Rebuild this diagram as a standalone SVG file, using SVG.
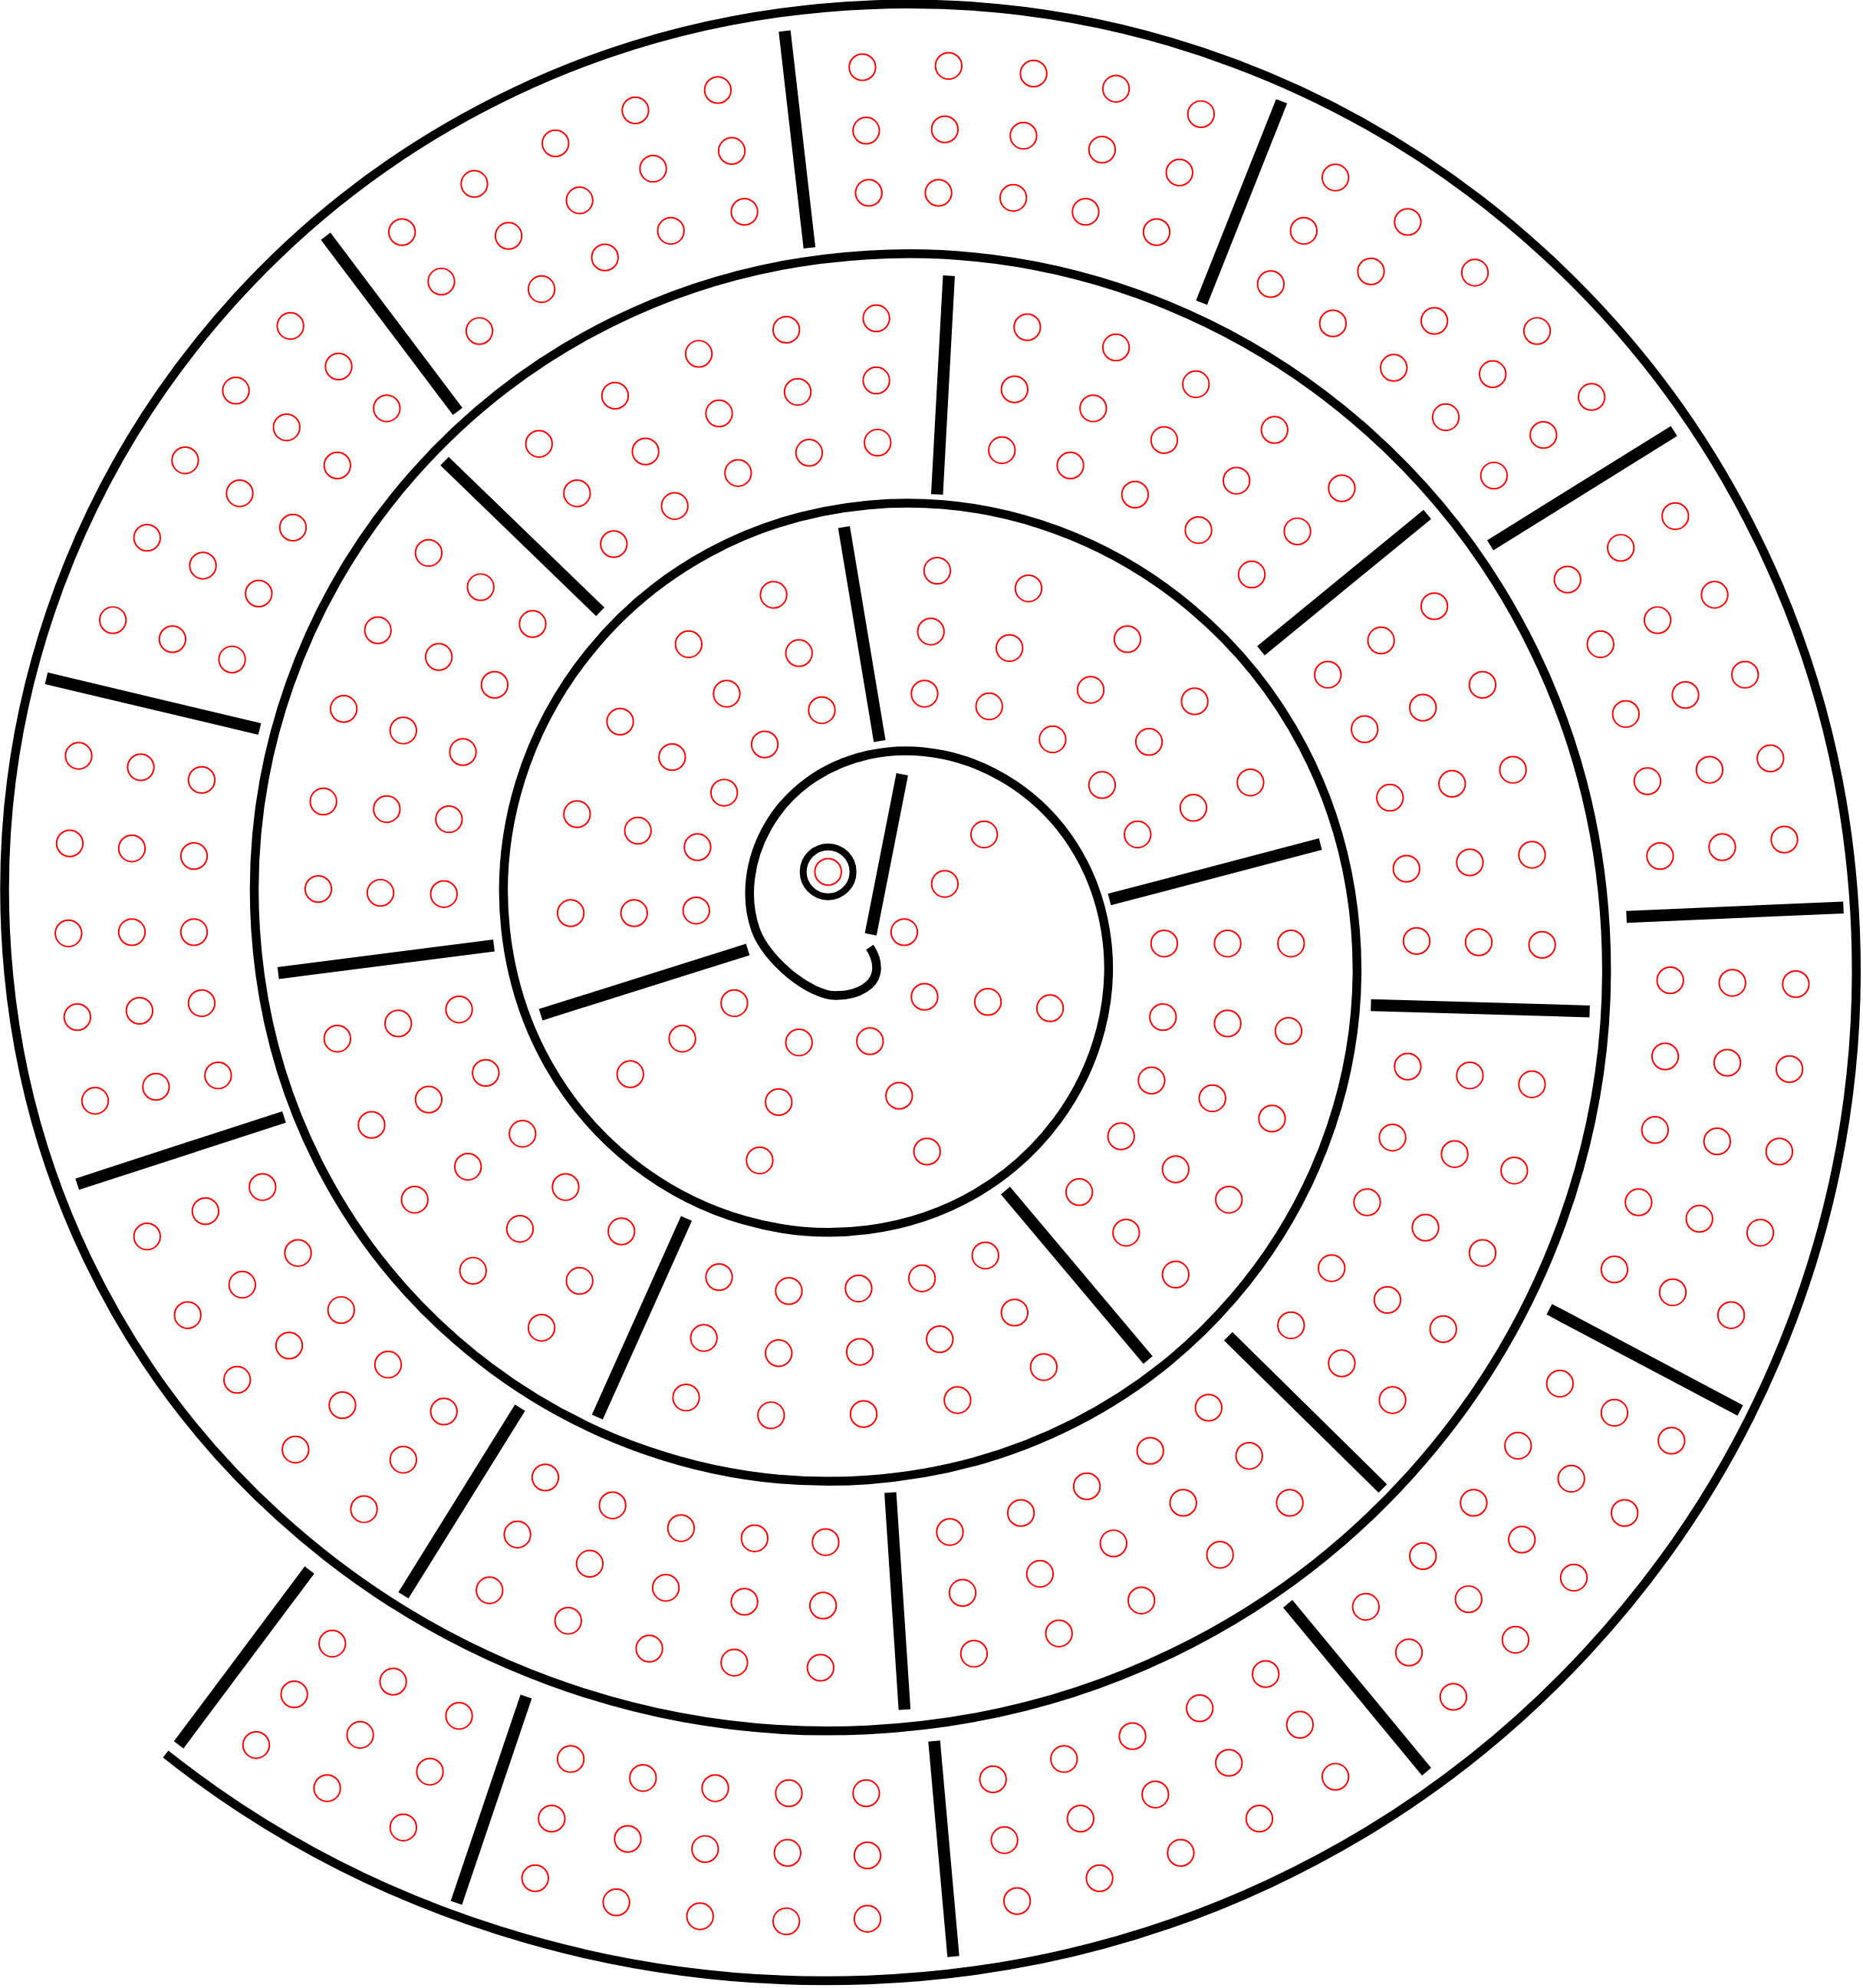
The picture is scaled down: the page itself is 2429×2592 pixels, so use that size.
<svg xmlns="http://www.w3.org/2000/svg" width="2429" height="2592" viewBox="0 0 2429 2592">
<style>
.spiral{fill:none;stroke:#000;stroke-width:11.5;stroke-linecap:butt}
.sep{stroke:#000;stroke-width:15.5;stroke-linecap:butt}
.dot{fill:none;stroke:#ff0000;stroke-width:1.2}
.ring{fill:none;stroke:#000;stroke-width:9}
</style>
<rect width="2429" height="2592" fill="#fff"/>
<g id="spiral">
<path class="spiral" d="M 216,2287 C 478.5,2495 805.7,2593.75 1131.7,2581.4 C 1887.8,2552.8 2447.9,1923.5 2419.2,1212.4 C 2390.6,501.3 1797.8,-22.25 1131.7,6.4 C 465.6,35.05 -21.45,591.3 7.2,1212.4 C 35.85,1833.5 555.7,2284.05 1131.7,2255.4 C 1707.7,2226.75 2121.85,1743.4 2093.2,1212.4 C 2064.55,681.4 1617.7,303.75 1131.7,332.4 C 645.7,361.05 304.55,771.4 333.2,1212.4 C 361.85,1653.4 735.7,1958.05 1131.7,1929.4 C 1527.7,1900.75 1795.85,1563.4 1767.2,1212.4 C 1738.55,861.4 1437.7,629.75 1131.7,658.4 C 825.7,687.05 630.55,951.4 659.2,1212.4 C 687.85,1473.4 915.8,1632.05 1131.7,1603.4 C 1347.6,1574.75 1469.85,1383.3 1441.2,1212.4 C 1412.55,1041.5 1257.6,955.75 1131.7,984.4 C 1005.8,1013.05 956.55,1131.5 985.2,1212.4 C 998.9,1251.1 1055,1298 1090,1298 C 1120,1298 1143,1284 1143,1262 C 1143,1250 1139,1242.5 1134,1235"/>
</g>
<g id="separators">
<line class="sep" x1="233" y1="2275" x2="403.5" y2="2047"/>
<line class="sep" x1="595" y1="2481" x2="686" y2="2212"/>
<line class="sep" x1="1218" y1="2270" x2="1243" y2="2551"/>
<line class="sep" x1="1679" y1="2091" x2="1860" y2="2310"/>
<line class="sep" x1="2020" y1="1707" x2="2269" y2="1839"/>
<line class="sep" x1="2120.6" y1="1195.6" x2="2403.5" y2="1183.2"/>
<line class="sep" x1="2182.6" y1="562" x2="1943" y2="711"/>
<line class="sep" x1="1671" y1="132" x2="1566.6" y2="394.7"/>
<line class="sep" x1="1023" y1="40.5" x2="1055.4" y2="323.2"/>
<line class="sep" x1="424.6" y1="308" x2="596.7" y2="536.4"/>
<line class="sep" x1="60.4" y1="884.4" x2="338.6" y2="950.5"/>
<line class="sep" x1="100.7" y1="1544" x2="370.4" y2="1456.3"/>
<line class="sep" x1="526" y1="2080" x2="678" y2="1835.4"/>
<line class="sep" x1="1160.8" y1="1946" x2="1179.4" y2="2229"/>
<line class="sep" x1="1601.4" y1="1742.3" x2="1802.9" y2="1940.7"/>
<line class="sep" x1="1787.4" y1="1310.5" x2="2072.6" y2="1318.7"/>
<line class="sep" x1="1644" y1="848.4" x2="1861" y2="670.7"/>
<line class="sep" x1="1237.2" y1="359.5" x2="1221.7" y2="644.7"/>
<line class="sep" x1="782.6" y1="797.6" x2="579.6" y2="601.3"/>
<line class="sep" x1="362.7" y1="1268.7" x2="644" y2="1232.8"/>
<line class="sep" x1="778.8" y1="1847.7" x2="895" y2="1588.6"/>
<line class="sep" x1="1310.9" y1="1552.2" x2="1496.8" y2="1773.3"/>
<line class="sep" x1="1721.6" y1="1100.5" x2="1446.5" y2="1172.8"/>
<line class="sep" x1="1100.4" y1="687.3" x2="1146.9" y2="966.2"/>
<line class="sep" x1="705" y1="1323" x2="975" y2="1238"/>
<line class="sep" x1="1176.3" y1="1009.6" x2="1135.2" y2="1218.3"/>
</g>
<g id="centre">
<circle class="ring" cx="1079.7" cy="1136.7" r="32.5"/>
<circle cx="1079.7" cy="1136.7" r="17.3" fill="none" stroke="#ff0000" stroke-width="2"/>
</g>
<g id="dots" transform="scale(1.65351)">
<circle class="dot" cx="318" cy="1441" r="10.4"/><circle class="dot" cx="258" cy="1410" r="10.4"/><circle class="dot" cx="202" cy="1376" r="10.4"/><circle class="dot" cx="339" cy="1397" r="10.4"/><circle class="dot" cx="284" cy="1368" r="10.4"/><circle class="dot" cx="232" cy="1336" r="10.4"/><circle class="dot" cx="362" cy="1353" r="10.4"/><circle class="dot" cx="310" cy="1326" r="10.4"/><circle class="dot" cx="262" cy="1296" r="10.4"/>
<circle class="dot" cx="450" cy="1387" r="10.4"/><circle class="dot" cx="507" cy="1402" r="10.4"/><circle class="dot" cx="564" cy="1410" r="10.4"/><circle class="dot" cx="622" cy="1414" r="10.4"/><circle class="dot" cx="683" cy="1414" r="10.4"/><circle class="dot" cx="435" cy="1434" r="10.4"/><circle class="dot" cx="495" cy="1450" r="10.4"/><circle class="dot" cx="556" cy="1458" r="10.4"/><circle class="dot" cx="621" cy="1461" r="10.4"/><circle class="dot" cx="684" cy="1463" r="10.4"/><circle class="dot" cx="422" cy="1481" r="10.4"/><circle class="dot" cx="486" cy="1500" r="10.4"/><circle class="dot" cx="552" cy="1511" r="10.4"/><circle class="dot" cx="620" cy="1515" r="10.4"/><circle class="dot" cx="684" cy="1513" r="10.4"/>
<circle class="dot" cx="783" cy="1403" r="10.4"/><circle class="dot" cx="839" cy="1387" r="10.4"/><circle class="dot" cx="893" cy="1369" r="10.4"/><circle class="dot" cx="946" cy="1347" r="10.4"/><circle class="dot" cx="998" cy="1320" r="10.4"/><circle class="dot" cx="792" cy="1451" r="10.4"/><circle class="dot" cx="852" cy="1434" r="10.4"/><circle class="dot" cx="911" cy="1415" r="10.4"/><circle class="dot" cx="969" cy="1390" r="10.4"/><circle class="dot" cx="1025" cy="1360" r="10.4"/><circle class="dot" cx="802" cy="1499" r="10.4"/><circle class="dot" cx="867" cy="1481" r="10.4"/><circle class="dot" cx="931" cy="1461" r="10.4"/><circle class="dot" cx="993" cy="1434" r="10.4"/><circle class="dot" cx="1053" cy="1401" r="10.4"/>
<circle class="dot" cx="1077" cy="1267" r="10.4"/><circle class="dot" cx="1111" cy="1303" r="10.4"/><circle class="dot" cx="1146" cy="1338" r="10.4"/><circle class="dot" cx="1122" cy="1227" r="10.4"/><circle class="dot" cx="1158" cy="1261" r="10.4"/><circle class="dot" cx="1195" cy="1293" r="10.4"/><circle class="dot" cx="1162" cy="1185" r="10.4"/><circle class="dot" cx="1200" cy="1214" r="10.4"/><circle class="dot" cx="1241" cy="1244" r="10.4"/><circle class="dot" cx="1197" cy="1140" r="10.4"/><circle class="dot" cx="1239" cy="1166" r="10.4"/><circle class="dot" cx="1281" cy="1193" r="10.4"/><circle class="dot" cx="1230" cy="1091" r="10.4"/><circle class="dot" cx="1273" cy="1114" r="10.4"/><circle class="dot" cx="1318" cy="1136" r="10.4"/>
<circle class="dot" cx="1273" cy="1001" r="10.4"/><circle class="dot" cx="1319" cy="1019" r="10.4"/><circle class="dot" cx="1365" cy="1037" r="10.4"/><circle class="dot" cx="1292" cy="948" r="10.4"/><circle class="dot" cx="1340" cy="961" r="10.4"/><circle class="dot" cx="1388" cy="972" r="10.4"/><circle class="dot" cx="1305" cy="891" r="10.4"/><circle class="dot" cx="1354" cy="900" r="10.4"/><circle class="dot" cx="1403" cy="908" r="10.4"/><circle class="dot" cx="1313" cy="833" r="10.4"/><circle class="dot" cx="1362" cy="838" r="10.4"/><circle class="dot" cx="1411" cy="843" r="10.4"/><circle class="dot" cx="1317" cy="773" r="10.4"/><circle class="dot" cx="1366" cy="775" r="10.4"/><circle class="dot" cx="1416" cy="776" r="10.4"/>
<circle class="dot" cx="1309" cy="675" r="10.4"/><circle class="dot" cx="1358" cy="668" r="10.4"/><circle class="dot" cx="1407" cy="662" r="10.4"/><circle class="dot" cx="1299" cy="616" r="10.4"/><circle class="dot" cx="1348" cy="607" r="10.4"/><circle class="dot" cx="1396" cy="598" r="10.4"/><circle class="dot" cx="1282" cy="563" r="10.4"/><circle class="dot" cx="1329" cy="548" r="10.4"/><circle class="dot" cx="1376" cy="532" r="10.4"/><circle class="dot" cx="1262" cy="508" r="10.4"/><circle class="dot" cx="1307" cy="489" r="10.4"/><circle class="dot" cx="1352" cy="469" r="10.4"/><circle class="dot" cx="1236" cy="457" r="10.4"/><circle class="dot" cx="1278" cy="432" r="10.4"/><circle class="dot" cx="1321" cy="407" r="10.4"/>
<circle class="dot" cx="1178" cy="375" r="10.4"/><circle class="dot" cx="1217" cy="343" r="10.4"/><circle class="dot" cx="1255" cy="313" r="10.4"/><circle class="dot" cx="1140" cy="329" r="10.4"/><circle class="dot" cx="1177" cy="295" r="10.4"/><circle class="dot" cx="1212" cy="261" r="10.4"/><circle class="dot" cx="1099" cy="290" r="10.4"/><circle class="dot" cx="1131" cy="253" r="10.4"/><circle class="dot" cx="1163" cy="215" r="10.4"/><circle class="dot" cx="1051" cy="255" r="10.4"/><circle class="dot" cx="1081" cy="214" r="10.4"/><circle class="dot" cx="1110" cy="175" r="10.4"/><circle class="dot" cx="1002" cy="224" r="10.4"/><circle class="dot" cx="1028" cy="182" r="10.4"/><circle class="dot" cx="1053" cy="140" r="10.4"/>
<circle class="dot" cx="912" cy="183" r="10.4"/><circle class="dot" cx="930" cy="136" r="10.4"/><circle class="dot" cx="947" cy="90" r="10.4"/><circle class="dot" cx="856" cy="167" r="10.4"/><circle class="dot" cx="869" cy="118" r="10.4"/><circle class="dot" cx="880" cy="70" r="10.4"/><circle class="dot" cx="799" cy="156" r="10.4"/><circle class="dot" cx="807" cy="107" r="10.4"/><circle class="dot" cx="815" cy="58" r="10.4"/><circle class="dot" cx="740" cy="152" r="10.4"/><circle class="dot" cx="745" cy="102" r="10.4"/><circle class="dot" cx="748" cy="52" r="10.4"/><circle class="dot" cx="685" cy="152" r="10.4"/><circle class="dot" cx="683" cy="103" r="10.4"/><circle class="dot" cx="680" cy="53" r="10.4"/>
<circle class="dot" cx="587" cy="167" r="10.4"/><circle class="dot" cx="577" cy="119" r="10.4"/><circle class="dot" cx="566" cy="71" r="10.4"/><circle class="dot" cx="529" cy="182" r="10.4"/><circle class="dot" cx="515" cy="133" r="10.4"/><circle class="dot" cx="501" cy="87" r="10.4"/><circle class="dot" cx="477" cy="203" r="10.4"/><circle class="dot" cx="457" cy="158" r="10.4"/><circle class="dot" cx="438" cy="113" r="10.4"/><circle class="dot" cx="427" cy="228" r="10.4"/><circle class="dot" cx="401" cy="186" r="10.4"/><circle class="dot" cx="374" cy="145" r="10.4"/><circle class="dot" cx="378" cy="261" r="10.4"/><circle class="dot" cx="348" cy="222" r="10.4"/><circle class="dot" cx="317" cy="183" r="10.4"/>
<circle class="dot" cx="305" cy="322" r="10.4"/><circle class="dot" cx="267" cy="289" r="10.4"/><circle class="dot" cx="229" cy="257" r="10.4"/><circle class="dot" cx="266" cy="367" r="10.4"/><circle class="dot" cx="226" cy="337" r="10.4"/><circle class="dot" cx="186" cy="308" r="10.4"/><circle class="dot" cx="231" cy="416" r="10.4"/><circle class="dot" cx="189" cy="389" r="10.4"/><circle class="dot" cx="146" cy="363" r="10.4"/><circle class="dot" cx="204" cy="468" r="10.4"/><circle class="dot" cx="160" cy="446" r="10.4"/><circle class="dot" cx="116" cy="424" r="10.4"/><circle class="dot" cx="183" cy="520" r="10.4"/><circle class="dot" cx="136" cy="504" r="10.4"/><circle class="dot" cx="89" cy="489" r="10.4"/>
<circle class="dot" cx="159" cy="615" r="10.4"/><circle class="dot" cx="111" cy="605" r="10.4"/><circle class="dot" cx="62" cy="596" r="10.4"/><circle class="dot" cx="153" cy="675" r="10.4"/><circle class="dot" cx="104" cy="669" r="10.4"/><circle class="dot" cx="55" cy="665" r="10.4"/><circle class="dot" cx="153" cy="735" r="10.4"/><circle class="dot" cx="104" cy="735" r="10.4"/><circle class="dot" cx="54" cy="736" r="10.4"/><circle class="dot" cx="159" cy="791" r="10.4"/><circle class="dot" cx="110" cy="797" r="10.4"/><circle class="dot" cx="61" cy="802" r="10.4"/><circle class="dot" cx="172" cy="848" r="10.4"/><circle class="dot" cx="123" cy="857" r="10.4"/><circle class="dot" cx="75" cy="868" r="10.4"/>
<circle class="dot" cx="207" cy="936" r="10.4"/><circle class="dot" cx="162" cy="955" r="10.4"/><circle class="dot" cx="116" cy="975" r="10.4"/><circle class="dot" cx="235" cy="988" r="10.4"/><circle class="dot" cx="191" cy="1013" r="10.4"/><circle class="dot" cx="148" cy="1037" r="10.4"/><circle class="dot" cx="269" cy="1033" r="10.4"/><circle class="dot" cx="228" cy="1061" r="10.4"/><circle class="dot" cx="187" cy="1088" r="10.4"/><circle class="dot" cx="306" cy="1076" r="10.4"/><circle class="dot" cx="270" cy="1108" r="10.4"/><circle class="dot" cx="233" cy="1143" r="10.4"/><circle class="dot" cx="350" cy="1113" r="10.4"/><circle class="dot" cx="318" cy="1151" r="10.4"/><circle class="dot" cx="287" cy="1190" r="10.4"/>
<circle class="dot" cx="430" cy="1165" r="10.4"/><circle class="dot" cx="408" cy="1210" r="10.4"/><circle class="dot" cx="386" cy="1254" r="10.4"/><circle class="dot" cx="483" cy="1187" r="10.4"/><circle class="dot" cx="465" cy="1233" r="10.4"/><circle class="dot" cx="448" cy="1278" r="10.4"/><circle class="dot" cx="537" cy="1205" r="10.4"/><circle class="dot" cx="525" cy="1252" r="10.4"/><circle class="dot" cx="512" cy="1300" r="10.4"/><circle class="dot" cx="595" cy="1213" r="10.4"/><circle class="dot" cx="587" cy="1263" r="10.4"/><circle class="dot" cx="579" cy="1311" r="10.4"/><circle class="dot" cx="651" cy="1216" r="10.4"/><circle class="dot" cx="649" cy="1266" r="10.4"/><circle class="dot" cx="647" cy="1315" r="10.4"/>
<circle class="dot" cx="749" cy="1208" r="10.4"/><circle class="dot" cx="759" cy="1256" r="10.4"/><circle class="dot" cx="768" cy="1304" r="10.4"/><circle class="dot" cx="805" cy="1193" r="10.4"/><circle class="dot" cx="820" cy="1241" r="10.4"/><circle class="dot" cx="835" cy="1288" r="10.4"/><circle class="dot" cx="857" cy="1172" r="10.4"/><circle class="dot" cx="878" cy="1217" r="10.4"/><circle class="dot" cx="900" cy="1262" r="10.4"/><circle class="dot" cx="907" cy="1144" r="10.4"/><circle class="dot" cx="933" cy="1185" r="10.4"/><circle class="dot" cx="962" cy="1226" r="10.4"/><circle class="dot" cx="953" cy="1110" r="10.4"/><circle class="dot" cx="985" cy="1148" r="10.4"/><circle class="dot" cx="1017" cy="1185" r="10.4"/>
<circle class="dot" cx="1018" cy="1045" r="10.4"/><circle class="dot" cx="1058" cy="1075" r="10.4"/><circle class="dot" cx="1098" cy="1104" r="10.4"/><circle class="dot" cx="1050" cy="1000" r="10.4"/><circle class="dot" cx="1094" cy="1025" r="10.4"/><circle class="dot" cx="1138" cy="1048" r="10.4"/><circle class="dot" cx="1078" cy="948" r="10.4"/><circle class="dot" cx="1124" cy="968" r="10.4"/><circle class="dot" cx="1169" cy="988" r="10.4"/><circle class="dot" cx="1098" cy="897" r="10.4"/><circle class="dot" cx="1147" cy="910" r="10.4"/><circle class="dot" cx="1194" cy="923" r="10.4"/><circle class="dot" cx="1110" cy="841" r="10.4"/><circle class="dot" cx="1159" cy="848" r="10.4"/><circle class="dot" cx="1208" cy="855" r="10.4"/>
<circle class="dot" cx="1117" cy="742" r="10.4"/><circle class="dot" cx="1166" cy="743" r="10.4"/><circle class="dot" cx="1216" cy="745" r="10.4"/><circle class="dot" cx="1109" cy="685" r="10.4"/><circle class="dot" cx="1159" cy="680" r="10.4"/><circle class="dot" cx="1208" cy="674" r="10.4"/><circle class="dot" cx="1096" cy="629" r="10.4"/><circle class="dot" cx="1145" cy="618" r="10.4"/><circle class="dot" cx="1193" cy="607" r="10.4"/><circle class="dot" cx="1076" cy="575" r="10.4"/><circle class="dot" cx="1122" cy="558" r="10.4"/><circle class="dot" cx="1169" cy="540" r="10.4"/><circle class="dot" cx="1047" cy="532" r="10.4"/><circle class="dot" cx="1089" cy="505" r="10.4"/><circle class="dot" cx="1131" cy="478" r="10.4"/>
<circle class="dot" cx="987" cy="453" r="10.4"/><circle class="dot" cx="1023" cy="419" r="10.4"/><circle class="dot" cx="1058" cy="385" r="10.4"/><circle class="dot" cx="945" cy="418" r="10.4"/><circle class="dot" cx="975" cy="379" r="10.4"/><circle class="dot" cx="1005" cy="339" r="10.4"/><circle class="dot" cx="895" cy="390" r="10.4"/><circle class="dot" cx="918" cy="347" r="10.4"/><circle class="dot" cx="943" cy="303" r="10.4"/><circle class="dot" cx="844" cy="367" r="10.4"/><circle class="dot" cx="862" cy="322" r="10.4"/><circle class="dot" cx="880" cy="274" r="10.4"/><circle class="dot" cx="790" cy="355" r="10.4"/><circle class="dot" cx="800" cy="307" r="10.4"/><circle class="dot" cx="810" cy="258" r="10.4"/>
<circle class="dot" cx="692" cy="349" r="10.4"/><circle class="dot" cx="691" cy="300" r="10.4"/><circle class="dot" cx="691" cy="251" r="10.4"/><circle class="dot" cx="638" cy="357" r="10.4"/><circle class="dot" cx="629" cy="309" r="10.4"/><circle class="dot" cx="620" cy="260" r="10.4"/><circle class="dot" cx="582" cy="373" r="10.4"/><circle class="dot" cx="567" cy="326" r="10.4"/><circle class="dot" cx="551" cy="279" r="10.4"/><circle class="dot" cx="532" cy="399" r="10.4"/><circle class="dot" cx="509" cy="356" r="10.4"/><circle class="dot" cx="485" cy="312" r="10.4"/><circle class="dot" cx="484" cy="429" r="10.4"/><circle class="dot" cx="455" cy="389" r="10.4"/><circle class="dot" cx="425" cy="350" r="10.4"/>
<circle class="dot" cx="420" cy="492" r="10.4"/><circle class="dot" cx="379" cy="463" r="10.4"/><circle class="dot" cx="338" cy="436" r="10.4"/><circle class="dot" cx="390" cy="540" r="10.4"/><circle class="dot" cx="346" cy="518" r="10.4"/><circle class="dot" cx="298" cy="497" r="10.4"/><circle class="dot" cx="365" cy="593" r="10.4"/><circle class="dot" cx="318" cy="576" r="10.4"/><circle class="dot" cx="271" cy="559" r="10.4"/><circle class="dot" cx="354" cy="646" r="10.4"/><circle class="dot" cx="305" cy="638" r="10.4"/><circle class="dot" cx="255" cy="632" r="10.4"/><circle class="dot" cx="350" cy="705" r="10.4"/><circle class="dot" cx="300" cy="704" r="10.4"/><circle class="dot" cx="251" cy="701" r="10.4"/>
<circle class="dot" cx="362" cy="796" r="10.4"/><circle class="dot" cx="314" cy="807" r="10.4"/><circle class="dot" cx="266" cy="819" r="10.4"/><circle class="dot" cx="383" cy="846" r="10.4"/><circle class="dot" cx="338" cy="867" r="10.4"/><circle class="dot" cx="293" cy="887" r="10.4"/><circle class="dot" cx="412" cy="894" r="10.4"/><circle class="dot" cx="369" cy="920" r="10.4"/><circle class="dot" cx="327" cy="946" r="10.4"/><circle class="dot" cx="446" cy="936" r="10.4"/><circle class="dot" cx="410" cy="969" r="10.4"/><circle class="dot" cx="373" cy="1002" r="10.4"/><circle class="dot" cx="490" cy="971" r="10.4"/><circle class="dot" cx="457" cy="1010" r="10.4"/><circle class="dot" cx="427" cy="1047" r="10.4"/>
<circle class="dot" cx="567" cy="1007" r="10.4"/><circle class="dot" cx="555" cy="1055" r="10.4"/><circle class="dot" cx="541" cy="1102" r="10.4"/><circle class="dot" cx="622" cy="1018" r="10.4"/><circle class="dot" cx="614" cy="1067" r="10.4"/><circle class="dot" cx="608" cy="1116" r="10.4"/><circle class="dot" cx="677" cy="1016" r="10.4"/><circle class="dot" cx="678" cy="1066" r="10.4"/><circle class="dot" cx="681" cy="1115" r="10.4"/><circle class="dot" cx="727" cy="1008" r="10.4"/><circle class="dot" cx="741" cy="1056" r="10.4"/><circle class="dot" cx="755" cy="1104" r="10.4"/><circle class="dot" cx="777" cy="990" r="10.4"/><circle class="dot" cx="800" cy="1035" r="10.4"/><circle class="dot" cx="823" cy="1078" r="10.4"/>
<circle class="dot" cx="851" cy="940" r="10.4"/><circle class="dot" cx="888" cy="972" r="10.4"/><circle class="dot" cx="927" cy="1005" r="10.4"/><circle class="dot" cx="884" cy="896" r="10.4"/><circle class="dot" cx="927" cy="922" r="10.4"/><circle class="dot" cx="969" cy="946" r="10.4"/><circle class="dot" cx="908" cy="852" r="10.4"/><circle class="dot" cx="956" cy="866" r="10.4"/><circle class="dot" cx="1003" cy="882" r="10.4"/><circle class="dot" cx="917" cy="802" r="10.4"/><circle class="dot" cx="968" cy="807" r="10.4"/><circle class="dot" cx="1016" cy="813" r="10.4"/><circle class="dot" cx="918" cy="744" r="10.4"/><circle class="dot" cx="968" cy="744" r="10.4"/><circle class="dot" cx="1018" cy="744" r="10.4"/>
<circle class="dot" cx="897" cy="658" r="10.4"/><circle class="dot" cx="941" cy="637" r="10.4"/><circle class="dot" cx="986" cy="617" r="10.4"/><circle class="dot" cx="869" cy="619" r="10.4"/><circle class="dot" cx="906" cy="585" r="10.4"/><circle class="dot" cx="942" cy="553" r="10.4"/><circle class="dot" cx="830" cy="583" r="10.4"/><circle class="dot" cx="860" cy="544" r="10.4"/><circle class="dot" cx="889" cy="504" r="10.4"/><circle class="dot" cx="780" cy="557" r="10.4"/><circle class="dot" cx="796" cy="511" r="10.4"/><circle class="dot" cx="811" cy="464" r="10.4"/><circle class="dot" cx="729" cy="547" r="10.4"/><circle class="dot" cx="734" cy="498" r="10.4"/><circle class="dot" cx="739" cy="450" r="10.4"/>
<circle class="dot" cx="648" cy="560" r="10.4"/><circle class="dot" cx="630" cy="515" r="10.4"/><circle class="dot" cx="610" cy="469" r="10.4"/><circle class="dot" cx="603" cy="587" r="10.4"/><circle class="dot" cx="573" cy="547" r="10.4"/><circle class="dot" cx="543" cy="508" r="10.4"/><circle class="dot" cx="571" cy="625" r="10.4"/><circle class="dot" cx="530" cy="597" r="10.4"/><circle class="dot" cx="489" cy="569" r="10.4"/><circle class="dot" cx="550" cy="668" r="10.4"/><circle class="dot" cx="503" cy="655" r="10.4"/><circle class="dot" cx="455" cy="642" r="10.4"/><circle class="dot" cx="549" cy="718" r="10.4"/><circle class="dot" cx="500" cy="720" r="10.4"/><circle class="dot" cx="450" cy="720" r="10.4"/>
<circle class="dot" cx="579" cy="791" r="10.4"/><circle class="dot" cx="538" cy="819" r="10.4"/><circle class="dot" cx="497" cy="847" r="10.4"/><circle class="dot" cx="630" cy="822" r="10.4"/><circle class="dot" cx="614" cy="869" r="10.4"/><circle class="dot" cx="599" cy="915" r="10.4"/><circle class="dot" cx="686" cy="821" r="10.4"/><circle class="dot" cx="709" cy="864" r="10.4"/><circle class="dot" cx="731" cy="908" r="10.4"/><circle class="dot" cx="729" cy="786" r="10.4"/><circle class="dot" cx="779" cy="790" r="10.4"/><circle class="dot" cx="828" cy="795" r="10.4"/><circle class="dot" cx="713" cy="735" r="10.4"/><circle class="dot" cx="745" cy="697" r="10.4"/><circle class="dot" cx="776" cy="658" r="10.4"/>
</g>
</svg>
